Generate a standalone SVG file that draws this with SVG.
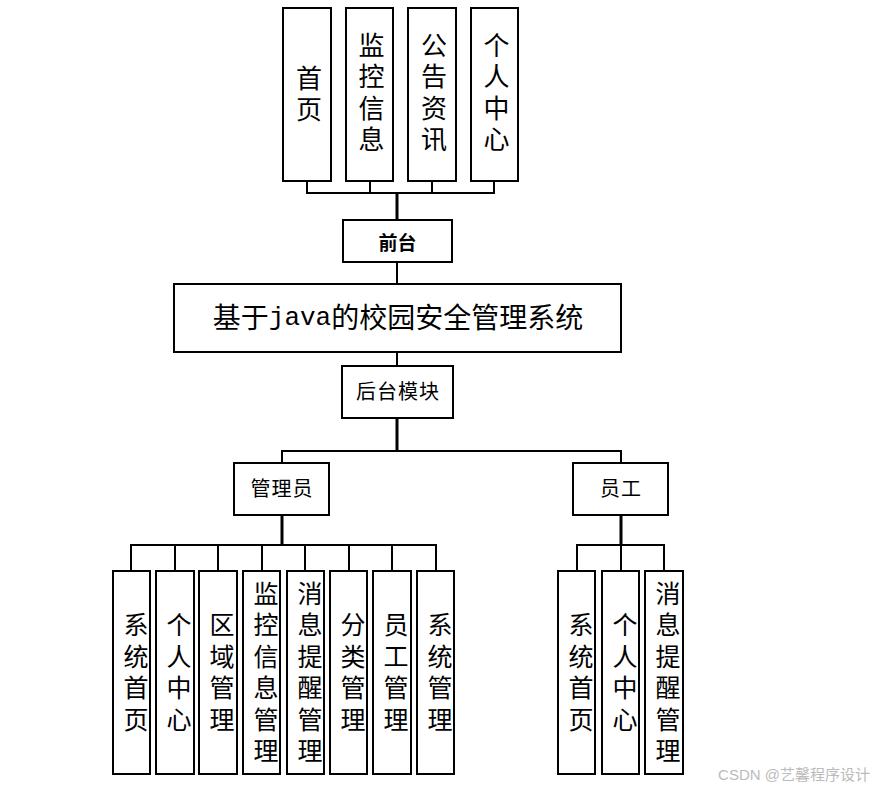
<svg xmlns="http://www.w3.org/2000/svg" width="881" height="789" viewBox="0 0 881 789">
<style>
rect{fill:#fff;stroke:#000;stroke-width:2}
.c line,.c polyline{stroke:#000;stroke-width:2;fill:none}
.c .t{stroke-width:3}
text{font-family:"Liberation Serif","Noto Sans CJK SC",serif;fill:#000;text-anchor:middle;dominant-baseline:central}
.v{font-size:26px}
.s{font-size:25px}
.m{font-size:20px}
.b{font-family:"Noto Sans CJK SC",sans-serif;font-weight:bold;font-size:19px}
.w{font-family:"Liberation Sans","Noto Sans CJK SC",sans-serif;font-size:15px;fill:#bbb}
</style>
<rect x="0" y="0" width="881" height="789" style="fill:#fff;stroke:none"/>
<g class="c" id="connectors">
<polyline points="307,181 307,193 494,193 494,181"/>
<line x1="370" y1="181" x2="370" y2="193"/>
<line x1="432" y1="181" x2="432" y2="193"/>
<line class="t" x1="397" y1="193" x2="397" y2="220"/>
<line x1="397" y1="262" x2="397" y2="284"/>
<line x1="397" y1="352" x2="397" y2="366"/>
<line class="t" x1="397" y1="418" x2="397" y2="451"/>
<polyline points="282,463 282,451 621,451 621,463"/>
<line class="t" x1="282" y1="515" x2="282" y2="545"/>
<polyline points="131,571 131,545 436,545 436,571"/>
<line x1="175" y1="545" x2="175" y2="571"/>
<line x1="218" y1="545" x2="218" y2="571"/>
<line x1="262" y1="545" x2="262" y2="571"/>
<line x1="305" y1="545" x2="305" y2="571"/>
<line x1="349" y1="545" x2="349" y2="571"/>
<line x1="392" y1="545" x2="392" y2="571"/>
<line class="t" x1="621" y1="515" x2="621" y2="545"/>
<polyline points="577,571 577,545 664,545 664,571"/>
<line x1="621" y1="545" x2="621" y2="571"/>
</g>
<g id="n-shouye"><rect x="283" y="8" width="48" height="173"/><text class="v" x="309"><tspan x="309" y="78.5">首</tspan><tspan x="309" y="109.5">页</tspan></text></g>
<g id="n-jiankong"><rect x="346" y="8" width="47" height="173"/><text class="v" x="371.5"><tspan x="371.5" y="45.5">监</tspan><tspan x="371.5" y="77">控</tspan><tspan x="371.5" y="108.5">信</tspan><tspan x="371.5" y="140">息</tspan></text></g>
<g id="n-gonggao"><rect x="408" y="8" width="48" height="173"/><text class="v" x="434"><tspan x="434" y="45.5">公</tspan><tspan x="434" y="77">告</tspan><tspan x="434" y="108.5">资</tspan><tspan x="434" y="140">讯</tspan></text></g>
<g id="n-geren"><rect x="471" y="8" width="47" height="173"/><text class="v" x="496.5"><tspan x="496.5" y="45.5">个</tspan><tspan x="496.5" y="77">人</tspan><tspan x="496.5" y="108.5">中</tspan><tspan x="496.5" y="140">心</tspan></text></g>
<g id="n-qiantai"><rect x="343" y="220" width="109" height="42"/><text class="b" x="397.5" y="241">前台</text></g>
<g id="n-main"><rect x="174" y="284" width="447" height="68"/><text x="398" y="318" style="font-size:28px">基于<tspan style="font-family:'Liberation Mono',monospace;font-size:26px">java</tspan>的校园安全管理系统</text></g>
<g id="n-houtai"><rect x="342" y="366" width="111" height="52"/><text class="m" x="398" y="392" style="letter-spacing:1px">后台模块</text></g>
<g id="n-admin"><rect x="234" y="463" width="95" height="52"/><text class="m" x="282" y="489" style="letter-spacing:1px">管理员</text></g>
<g id="n-staff"><rect x="573" y="463" width="95" height="52"/><text class="m" x="621" y="489" style="letter-spacing:1px">员工</text></g>
<g id="a1"><rect x="113" y="571" width="37" height="203"/><text class="s"><tspan x="136" y="625.25">系</tspan><tspan x="136" y="656.75">统</tspan><tspan x="136" y="688.25">首</tspan><tspan x="136" y="719.75">页</tspan></text></g>
<g id="a2"><rect x="156" y="571" width="38" height="203"/><text class="s"><tspan x="179" y="625.25">个</tspan><tspan x="179" y="656.75">人</tspan><tspan x="179" y="688.25">中</tspan><tspan x="179" y="719.75">心</tspan></text></g>
<g id="a3"><rect x="199" y="571" width="38" height="203"/><text class="s"><tspan x="222" y="625.25">区</tspan><tspan x="222" y="656.75">域</tspan><tspan x="222" y="688.25">管</tspan><tspan x="222" y="719.75">理</tspan></text></g>
<g id="a4"><rect x="243" y="571" width="37" height="203"/><text class="s"><tspan x="266" y="593.75">监</tspan><tspan x="266" y="625.25">控</tspan><tspan x="266" y="656.75">信</tspan><tspan x="266" y="688.25">息</tspan><tspan x="266" y="719.75">管</tspan><tspan x="266" y="751.25">理</tspan></text></g>
<g id="a5"><rect x="287" y="571" width="37" height="203"/><text class="s"><tspan x="310" y="593.75">消</tspan><tspan x="310" y="625.25">息</tspan><tspan x="310" y="656.75">提</tspan><tspan x="310" y="688.25">醒</tspan><tspan x="310" y="719.75">管</tspan><tspan x="310" y="751.25">理</tspan></text></g>
<g id="a6"><rect x="330" y="571" width="37" height="203"/><text class="s"><tspan x="353" y="625.25">分</tspan><tspan x="353" y="656.75">类</tspan><tspan x="353" y="688.25">管</tspan><tspan x="353" y="719.75">理</tspan></text></g>
<g id="a7"><rect x="373" y="571" width="38" height="203"/><text class="s"><tspan x="396" y="625.25">员</tspan><tspan x="396" y="656.75">工</tspan><tspan x="396" y="688.25">管</tspan><tspan x="396" y="719.75">理</tspan></text></g>
<g id="a8"><rect x="417" y="571" width="37" height="203"/><text class="s"><tspan x="440" y="625.25">系</tspan><tspan x="440" y="656.75">统</tspan><tspan x="440" y="688.25">管</tspan><tspan x="440" y="719.75">理</tspan></text></g>
<g id="s1"><rect x="558" y="571" width="37" height="203"/><text class="s"><tspan x="581" y="625.25">系</tspan><tspan x="581" y="656.75">统</tspan><tspan x="581" y="688.25">首</tspan><tspan x="581" y="719.75">页</tspan></text></g>
<g id="s2"><rect x="602" y="571" width="37" height="203"/><text class="s"><tspan x="625" y="625.25">个</tspan><tspan x="625" y="656.75">人</tspan><tspan x="625" y="688.25">中</tspan><tspan x="625" y="719.75">心</tspan></text></g>
<g id="s3"><rect x="645" y="571" width="38" height="203"/><text class="s"><tspan x="668" y="593.75">消</tspan><tspan x="668" y="625.25">息</tspan><tspan x="668" y="656.75">提</tspan><tspan x="668" y="688.25">醒</tspan><tspan x="668" y="719.75">管</tspan><tspan x="668" y="751.25">理</tspan></text></g>
<text class="w" x="794" y="774">CSDN @艺馨程序设计</text>
</svg>
